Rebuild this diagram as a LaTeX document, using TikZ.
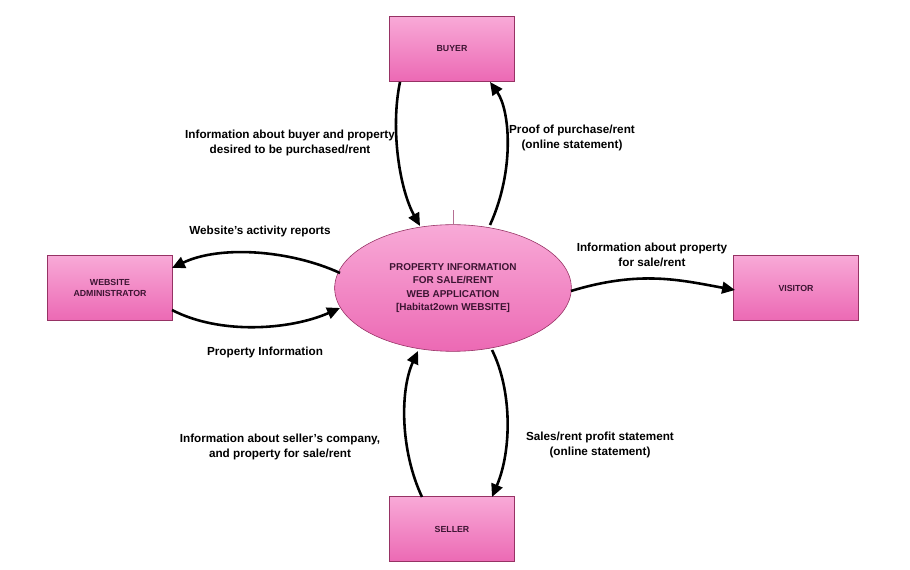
\documentclass[tikz,border=0pt]{standalone}
\usepackage{fontspec}
\setmainfont{Liberation Sans}
\usetikzlibrary{arrows.meta,shapes.geometric}
\definecolor{pktop}{RGB}{248,170,215}
\definecolor{pkbot}{RGB}{236,105,180}
\definecolor{pkedge}{RGB}{150,50,100}
\definecolor{txt}{RGB}{60,20,50}
\begin{document}
\begin{tikzpicture}[x=0.03cm,y=-0.03cm,
  ent/.style={draw=pkedge,line width=0.5pt,top color=pktop,bottom color=pkbot,minimum width=3.75cm,minimum height=1.95cm,align=center,font=\fontsize{7.5}{10}\selectfont\bfseries,text=txt,inner sep=1pt},
  proc/.style={ellipse,draw=pkedge,line width=0.5pt,top color=pktop,bottom color=pkbot,minimum width=7.1cm,minimum height=3.8cm,align=center,font=\fontsize{8.5}{11.5}\selectfont\bfseries,text=txt,inner sep=0pt},
  flow/.style={line width=2.2pt,-{Triangle[length=11pt,width=10pt]}},
  lbl/.style={font=\fontsize{10}{12.5}\selectfont\bfseries,align=center,text=black}]
\useasboundingbox (0,0) rectangle (910,570);
\node[ent] (buyer) at (452,49) {BUYER};
\node[ent] (seller) at (452,529) {SELLER};
\node[ent] (admin) at (110,288) {WEBSITE\\ADMINISTRATOR};
\node[ent] (visitor) at (796,288) {VISITOR};
\node[proc] (app) at (453,288) {PROPERTY INFORMATION\\FOR SALE/RENT\\WEB APPLICATION\\{[Habitat2own WEBSITE]}};
\draw[pkedge!70,line width=0.5pt] (app.north) -- ++(0,-14);
\coordinate (b1) at (400,82);
\coordinate (b2) at (420,226);
\draw[flow] (b1) .. controls (390,130) and (400,190) .. (b2);
\coordinate (b3) at (490,225);
\coordinate (b4) at (490,82);
\draw[flow] (b3) .. controls (515,170) and (510,110) .. (b4);
\coordinate (a1) at (340,273);
\coordinate (a2) at (172,268);
\draw[flow] (a1) .. controls (290,250) and (220,245) .. (a2);
\coordinate (a3) at (172,310);
\coordinate (a4) at (340,308);
\draw[flow] (a3) .. controls (220,335) and (290,330) .. (a4);
\coordinate (v1) at (571,291);
\coordinate (v2) at (735,290);
\draw[flow] (v1) .. controls (640,270) and (680,280) .. (v2);
\coordinate (s1) at (422,497);
\coordinate (s2) at (418,351);
\draw[flow] (s1) .. controls (400,450) and (400,390) .. (s2);
\coordinate (s3) at (492,350);
\coordinate (s4) at (492,497);
\draw[flow] (s3) .. controls (512,390) and (512,450) .. (s4);
\node[lbl] (l1) at (290,143) {Information about buyer and property\\desired to be purchased/rent};
\node[lbl] (l2) at (572,138) {Proof of purchase/rent\\(online statement)};
\node[lbl] (l3) at (260,231) {Website's activity reports};
\node[lbl] (l4) at (265,352) {Property Information};
\node[lbl] (l5) at (652,255) {Information about property\\for sale/rent};
\node[lbl] (l6) at (280,447) {Information about seller's company,\\and property for sale/rent};
\node[lbl] (l7) at (600,445) {Sales/rent profit statement\\(online statement)};
\end{tikzpicture}
\end{document}
